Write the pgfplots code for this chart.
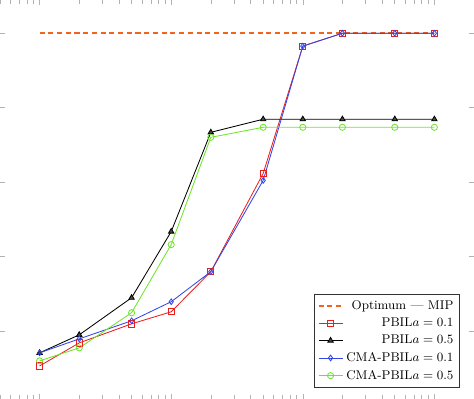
\documentclass[border=0pt]{standalone}
\usepackage{pgfplots}
\pgfplotsset{compat=1.18}
\definecolor{optorange}{RGB}{240,100,30}
\definecolor{pred}{RGB}{235,30,30}
\definecolor{cblue}{RGB}{50,70,230}
\definecolor{cgreen}{RGB}{110,230,40}
\begin{document}
\begin{tikzpicture}
\begin{axis}[
  scale only axis,
  width=11.85cm, height=9.975cm,
  xmode=log, xmin=0.5, xmax=2000,
  ymin=0.084, ymax=5.447,
  ytick={1,2,3,4,5},
  xticklabels={}, yticklabels={},
  axis line style={draw=none},
  every tick/.style={gray!60, thin},
  minor tick length=0.1cm,
  major tick length=0.13cm,
  legend cell align=right,
  legend style={at={(0.9705,0.028)}, anchor=south east, font=\small, draw=black!80, inner sep=2.5pt, row sep=0.6pt},
]
\coordinate (bbsw) at (rel axis cs:0,0);
\coordinate (bbne) at (rel axis cs:1,1);
\addplot[optorange, line width=1.3pt, dash pattern=on 3.6pt off 2.6pt] coordinates {(1,5.0) (1000,5.0)};
\addlegendentry{Optimum --- MIP}
\addplot[pred, line width=0.6pt, mark=square, mark size=2.2pt, mark options={solid}] coordinates {
(1,0.528) (2,0.838) (5,1.094) (10,1.256) (20,1.795) (50,3.116) (100,4.827) (200,5.0) (500,5.0) (1000,5.0)};
\addlegendentry{PBIL$a=0.1$}
\addplot[black, line width=0.6pt, mark=triangle*, mark size=2.2pt, mark options={fill=black!70}] coordinates {
(1,0.704) (2,0.946) (5,1.445) (10,2.334) (20,3.668) (50,3.844) (100,3.844) (200,3.844) (500,3.844) (1000,3.844)};
\addlegendentry{PBIL$a=0.5$}
\addplot[cblue, line width=0.6pt, mark=diamond, mark size=2pt] coordinates {
(1,0.704) (2,0.892) (5,1.135) (10,1.391) (20,1.795) (50,3.022) (100,4.827) (200,5.0) (500,5.0) (1000,5.0)};
\addlegendentry{CMA-PBIL$a=0.1$}
\addplot[cgreen, line width=0.6pt, mark=o, mark size=2.2pt] coordinates {
(1,0.596) (2,0.771) (5,1.243) (10,2.159) (20,3.601) (50,3.736) (100,3.736) (200,3.736) (500,3.736) (1000,3.736)};
\addlegendentry{CMA-PBIL$a=0.5$}
\end{axis}
\pgfresetboundingbox
\path (bbsw) rectangle (bbne);
\end{tikzpicture}
\end{document}
